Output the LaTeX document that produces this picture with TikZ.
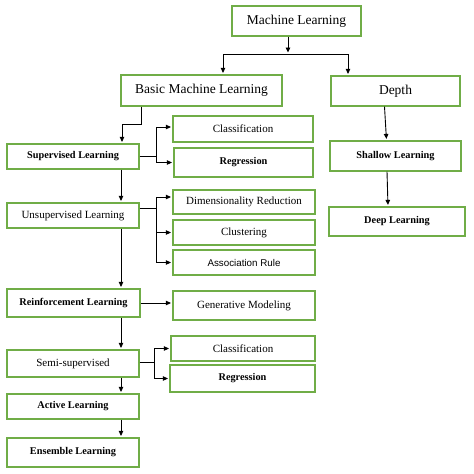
\documentclass[tikz,border=0pt]{standalone}
\usepackage{fontspec}
\setmainfont{Liberation Serif}
\newfontfamily\arialfont{Liberation Sans}
\usetikzlibrary{arrows.meta}
\definecolor{mlgreen}{RGB}{112,173,71}
\tikzset{
  box/.style 2 args={draw=mlgreen, line width=1.2pt, minimum width=#1, minimum height=#2,
    inner sep=0pt, font=\fontsize{11}{13}\selectfont},
  bigbox/.style 2 args={box={#1}{#2}, font=\fontsize{13.5}{16}\selectfont},
  boldtext/.style={font=\fontsize{10.3}{12}\selectfont\bfseries},
  arr/.style={-{Triangle[length=5pt,width=4.5pt]}, line width=0.9pt, shorten >=1.5pt},
  link/.style={line width=0.9pt}
}

\begin{document}
\begin{tikzpicture}[x=1pt,y=-1pt]
\useasboundingbox (0,0) rectangle (474,474);

% top levels
\node[bigbox={129pt}{30pt}] (ml) at (296.5,21) {Machine Learning};
\node[bigbox={161pt}{31pt}] (bml) at (201.5,90.5) {Basic Machine Learning};
\node[bigbox={129pt}{30pt}] (depth) at (395.5,91) {Depth};

% left column
\node[box={132pt}{25pt}, boldtext] (sup) at (73,156.5) {Supervised Learning};
\node[box={132pt}{25pt}] (unsup) at (73,215.5) {Unsupervised Learning};
\node[box={133pt}{28pt}, boldtext] (reinf) at (73.5,303) {Reinforcement Learning};
\node[box={132pt}{27pt}] (semi) at (73,363.5) {Semi-supervised};
\node[box={132pt}{25pt}, boldtext] (active) at (73,406.5) {Active Learning};
\node[box={132pt}{29pt}, boldtext] (ens) at (73,452.5) {Ensemble Learning};

% middle column
\node[box={140pt}{26pt}] (cls1) at (243,129) {Classification};
\node[box={139pt}{29pt}, boldtext] (reg1) at (243.5,162.5) {Regression};
\node[box={142pt}{24pt}] (dim) at (244,202) {Dimensionality Reduction};
\node[box={142pt}{25pt}] (clu) at (244,232.5) {Clustering};
\node[box={142pt}{25pt}, font=\arialfont\fontsize{9.8}{12}\selectfont] (assoc) at (244,262.5) {Association Rule};
\node[box={142pt}{29pt}] (gen) at (244,305.5) {Generative Modeling};
\node[box={144pt}{25pt}] (cls2) at (243,348.5) {Classification};
\node[box={145pt}{27pt}, boldtext] (reg2) at (242.5,378.5) {Regression};

% right column
\node[box={131pt}{30pt}, boldtext] (shallow) at (395.5,156) {Shallow Learning};
\node[box={136pt}{29pt}, boldtext] (deep) at (397,221.5) {Deep Learning};

% connectors
\coordinate (split) at (288,54);
\draw[arr] (ml.south -| split) -- (split);
\draw[arr] (split) -| ([xshift=21.5pt]bml.north);
\draw[arr] (split) -| ([xshift=-47.5pt]depth.north);
\draw[arr] ([xshift=-60.5pt]bml.south) -- ++(0,18) -| ([xshift=49pt]sup.north);
\draw[arr] ([xshift=-11pt]depth.south) -- ([xshift=-9pt]shallow.north);
\draw[arr] ([xshift=-8.5pt]shallow.south) -- ([xshift=-9pt]deep.north);

\foreach \a/\b in {sup/unsup, unsup/reinf, reinf/semi, semi/active, active/ens}
  \draw[arr] (73,0 |- \a.south) ++(48,0) -- ([xshift=48pt]73,0 |- \b.north);

\coordinate (b1) at (156,156.5);
\draw[link] (sup.east) -- (b1);
\draw[arr] (b1) |- ([yshift=2pt]cls1.west);
\draw[arr] (b1) |- (reg1.west);

\coordinate (b2) at (156,208);
\draw[link] ([yshift=7.5pt]unsup.east) -- (b2);
\draw[arr] (b2) |- ([yshift=5pt]dim.west);
\draw[arr] (b2) |- (clu.west);
\draw[arr] (b2) |- (assoc.west);

\draw[arr] (reinf.east) -- (gen.west |- reinf.east);

\coordinate (b3) at (154,362);
\draw[link] (semi.east |- b3) -- (b3);
\draw[arr] (b3) |- (cls2.west);
\draw[arr] (b3) |- (reg2.west);
\end{tikzpicture}
\end{document}
